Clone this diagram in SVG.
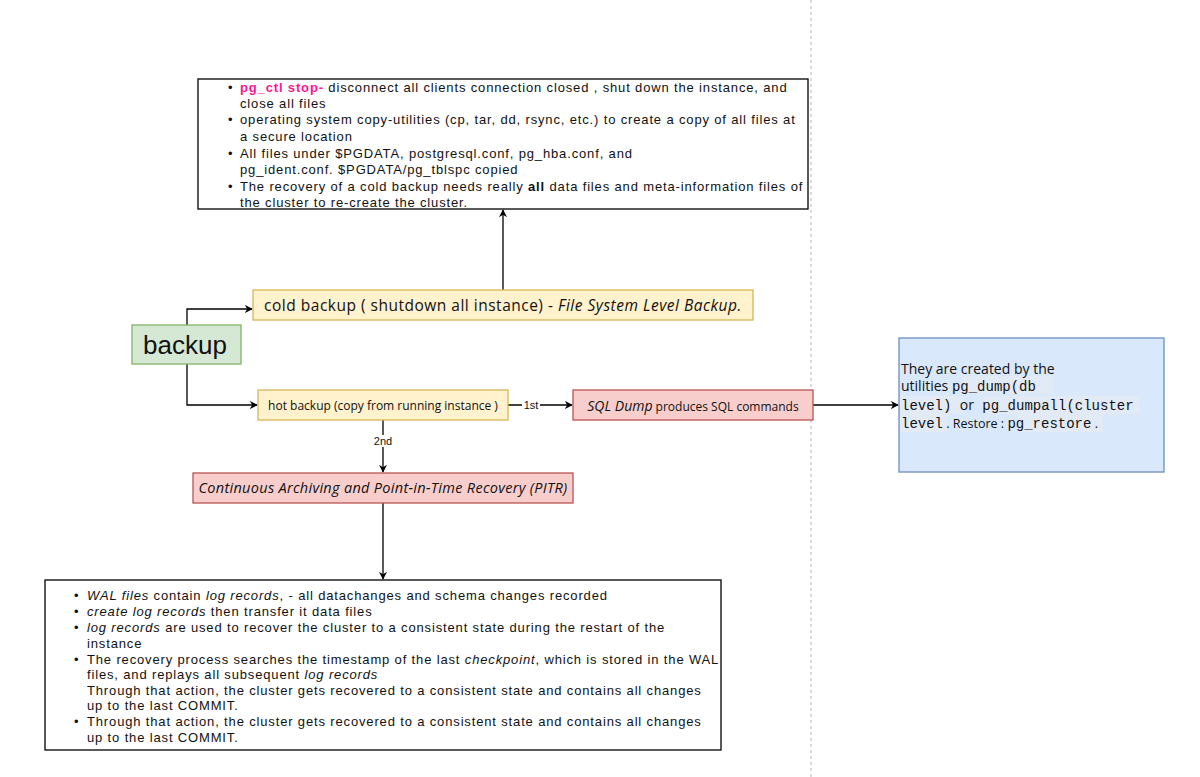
<svg xmlns="http://www.w3.org/2000/svg" width="1200" height="777" viewBox="0 0 1200 777">
<style>
.box{fill:#fff;stroke:#000;stroke-width:1.3}
.yel{fill:#fff2cc;stroke:#d6b656;stroke-width:1.3}
.red{fill:#f8cecc;stroke:#b85450;stroke-width:1.3}
.grn{fill:#d5e8d4;stroke:#82b366;stroke-width:1.3}
.blu{fill:#dae8fc;stroke:#6c8ebf;stroke-width:1.3}
.t{font-family:"Liberation Sans",Arial,sans-serif;font-size:13px;letter-spacing:0.85px;fill:#111}
.c{font-family:"Open Sans","DejaVu Sans",sans-serif;fill:#111}
.m{font-family:"Liberation Mono","Courier New",monospace;font-size:14px;fill:#111}
.e{stroke:#000;stroke-width:1.3;fill:none;marker-end:url(#a)}
.lbl{font-family:"Liberation Sans",Arial,sans-serif;font-size:11px;fill:#111}
</style>
<defs>
<marker id="a" viewBox="0 0 10 10" refX="9" refY="5" markerWidth="8" markerHeight="8" markerUnits="userSpaceOnUse" orient="auto">
<path d="M0,0 L10,5 L0,10 L3,5 Z" fill="#000"/>
</marker>
</defs>
<rect width="1200" height="777" fill="#fff"/>
<line x1="811" y1="0" x2="811" y2="777" stroke="#c8c8c8" stroke-width="1.3" stroke-dasharray="3,3"/>

<g id="connectors">
<path class="e" d="M187,325 V309 H252"/>
<path class="e" d="M187,364 V405 H257"/>
<path class="e" d="M503,290 V210"/>
<path class="e" d="M508,405 H572"/>
<rect x="522" y="399" width="18" height="12" fill="#fff"/>
<text class="lbl" x="531" y="409" text-anchor="middle">1st</text>
<path class="e" d="M383,420 V472"/>
<rect x="373" y="435" width="20" height="12" fill="#fff"/>
<text class="lbl" x="383" y="445" text-anchor="middle">2nd</text>
<path class="e" d="M383,503 V579"/>
<path class="e" d="M813,405 H898"/>
</g>

<g id="cold-notes">
<rect class="box" x="198" y="79" width="610" height="130"/>
<text class="t">
<tspan x="228" y="92">•</tspan>
<tspan x="240" y="92" font-weight="bold" fill="#ff1493">pg_ctl stop-</tspan><tspan> disconnect all clients connection closed , shut down the instance, and</tspan>
<tspan x="240" y="108">close all files</tspan>
<tspan x="228" y="124">•</tspan><tspan x="240" y="124">operating system copy-utilities (cp, tar, dd, rsync, etc.) to create a copy of all files at</tspan>
<tspan x="240" y="141">a secure location</tspan>
<tspan x="228" y="158">•</tspan><tspan x="240" y="158">All files under $PGDATA, postgresql.conf, pg_hba.conf, and</tspan>
<tspan x="240" y="174">pg_ident.conf. $PGDATA/pg_tblspc copied</tspan>
<tspan x="228" y="191">•</tspan><tspan x="240" y="191">The recovery of a cold backup needs really </tspan><tspan font-weight="bold">all</tspan><tspan> data files and meta-information files of</tspan>
<tspan x="240" y="207">the cluster to re-create the cluster.</tspan>
</text>
</g>

<g id="cold-backup">
<rect class="yel" x="253" y="290" width="500" height="30"/>
<text class="c" x="503" y="311" font-size="15.5" letter-spacing="0.5" text-anchor="middle">cold backup ( shutdown all instance) - <tspan font-style="italic">File System Level Backup.</tspan></text>
</g>

<g id="backup">
<rect class="grn" x="132" y="325" width="109" height="39"/>
<text x="185" y="354" font-family="'Liberation Sans',Arial,sans-serif" font-size="26" text-anchor="middle" fill="#111">backup</text>
</g>

<g id="hot-backup">
<rect class="yel" x="258" y="390" width="250" height="30"/>
<text class="c" x="383" y="410" font-size="12" text-anchor="middle">hot backup (copy from running instance )</text>
</g>

<g id="sql-dump">
<rect class="red" x="573" y="390" width="240" height="30"/>
<text class="c" x="693" y="411" font-size="12" text-anchor="middle"><tspan font-style="italic" font-size="14">SQL Dump</tspan> produces SQL commands</text>
</g>

<g id="dump-notes">
<rect class="blu" x="899" y="338" width="265" height="134"/>
<g fill="#e2eaf6">
<rect x="962" y="376" width="92" height="18"/>
<rect x="900" y="396" width="64" height="18"/>
<rect x="984" y="396" width="156" height="18"/>
<rect x="900" y="414" width="48" height="18"/>
<rect x="1017" y="414" width="86" height="18"/>
</g>
<text class="c" x="901" y="374" font-size="14">They are created by the</text>
<text class="c" x="901" y="391" font-size="14">utilities  <tspan class="m">pg_dump(db</tspan></text>
<text class="m" x="901" y="410">level) <tspan class="c" font-size="14">or</tspan> pg_dumpall(cluster</text>
<text class="m" x="901" y="428">level<tspan class="c" font-size="12.5"> . Restore : </tspan>pg_restore<tspan class="c" font-size="12.5"> .</tspan></text>
</g>

<g id="pitr">
<rect class="red" x="193" y="473" width="380" height="30"/>
<text class="c" x="383" y="493" font-size="14.5" letter-spacing="0.3" font-style="italic" text-anchor="middle">Continuous Archiving and Point-in-Time Recovery (PITR)</text>
</g>

<g id="pitr-notes">
<rect class="box" x="45" y="580" width="676" height="170"/>
<text class="t">
<tspan x="74" y="600">•</tspan><tspan x="87" y="600" font-style="italic">WAL files</tspan><tspan> contain </tspan><tspan font-style="italic">log records</tspan><tspan>, - all datachanges and schema changes recorded</tspan>
<tspan x="74" y="616">•</tspan><tspan x="87" y="616" font-style="italic">create log records</tspan><tspan> then transfer it data files</tspan>
<tspan x="74" y="632">•</tspan><tspan x="87" y="632" font-style="italic">log records</tspan><tspan> are used to recover the cluster to a consistent state during the restart of the</tspan>
<tspan x="87" y="648">instance</tspan>
<tspan x="74" y="664">•</tspan><tspan x="87" y="664">The recovery process searches the timestamp of the last </tspan><tspan font-style="italic">checkpoint</tspan><tspan>, which is stored in the WAL</tspan>
<tspan x="87" y="679">files, and replays all subsequent </tspan><tspan font-style="italic">log records</tspan>
<tspan x="87" y="695">Through that action, the cluster gets recovered to a consistent state and contains all changes</tspan>
<tspan x="87" y="710">up to the last COMMIT.</tspan>
<tspan x="74" y="726">•</tspan><tspan x="87" y="726">Through that action, the cluster gets recovered to a consistent state and contains all changes</tspan>
<tspan x="87" y="742">up to the last COMMIT.</tspan>
</text>
</g>
</svg>
